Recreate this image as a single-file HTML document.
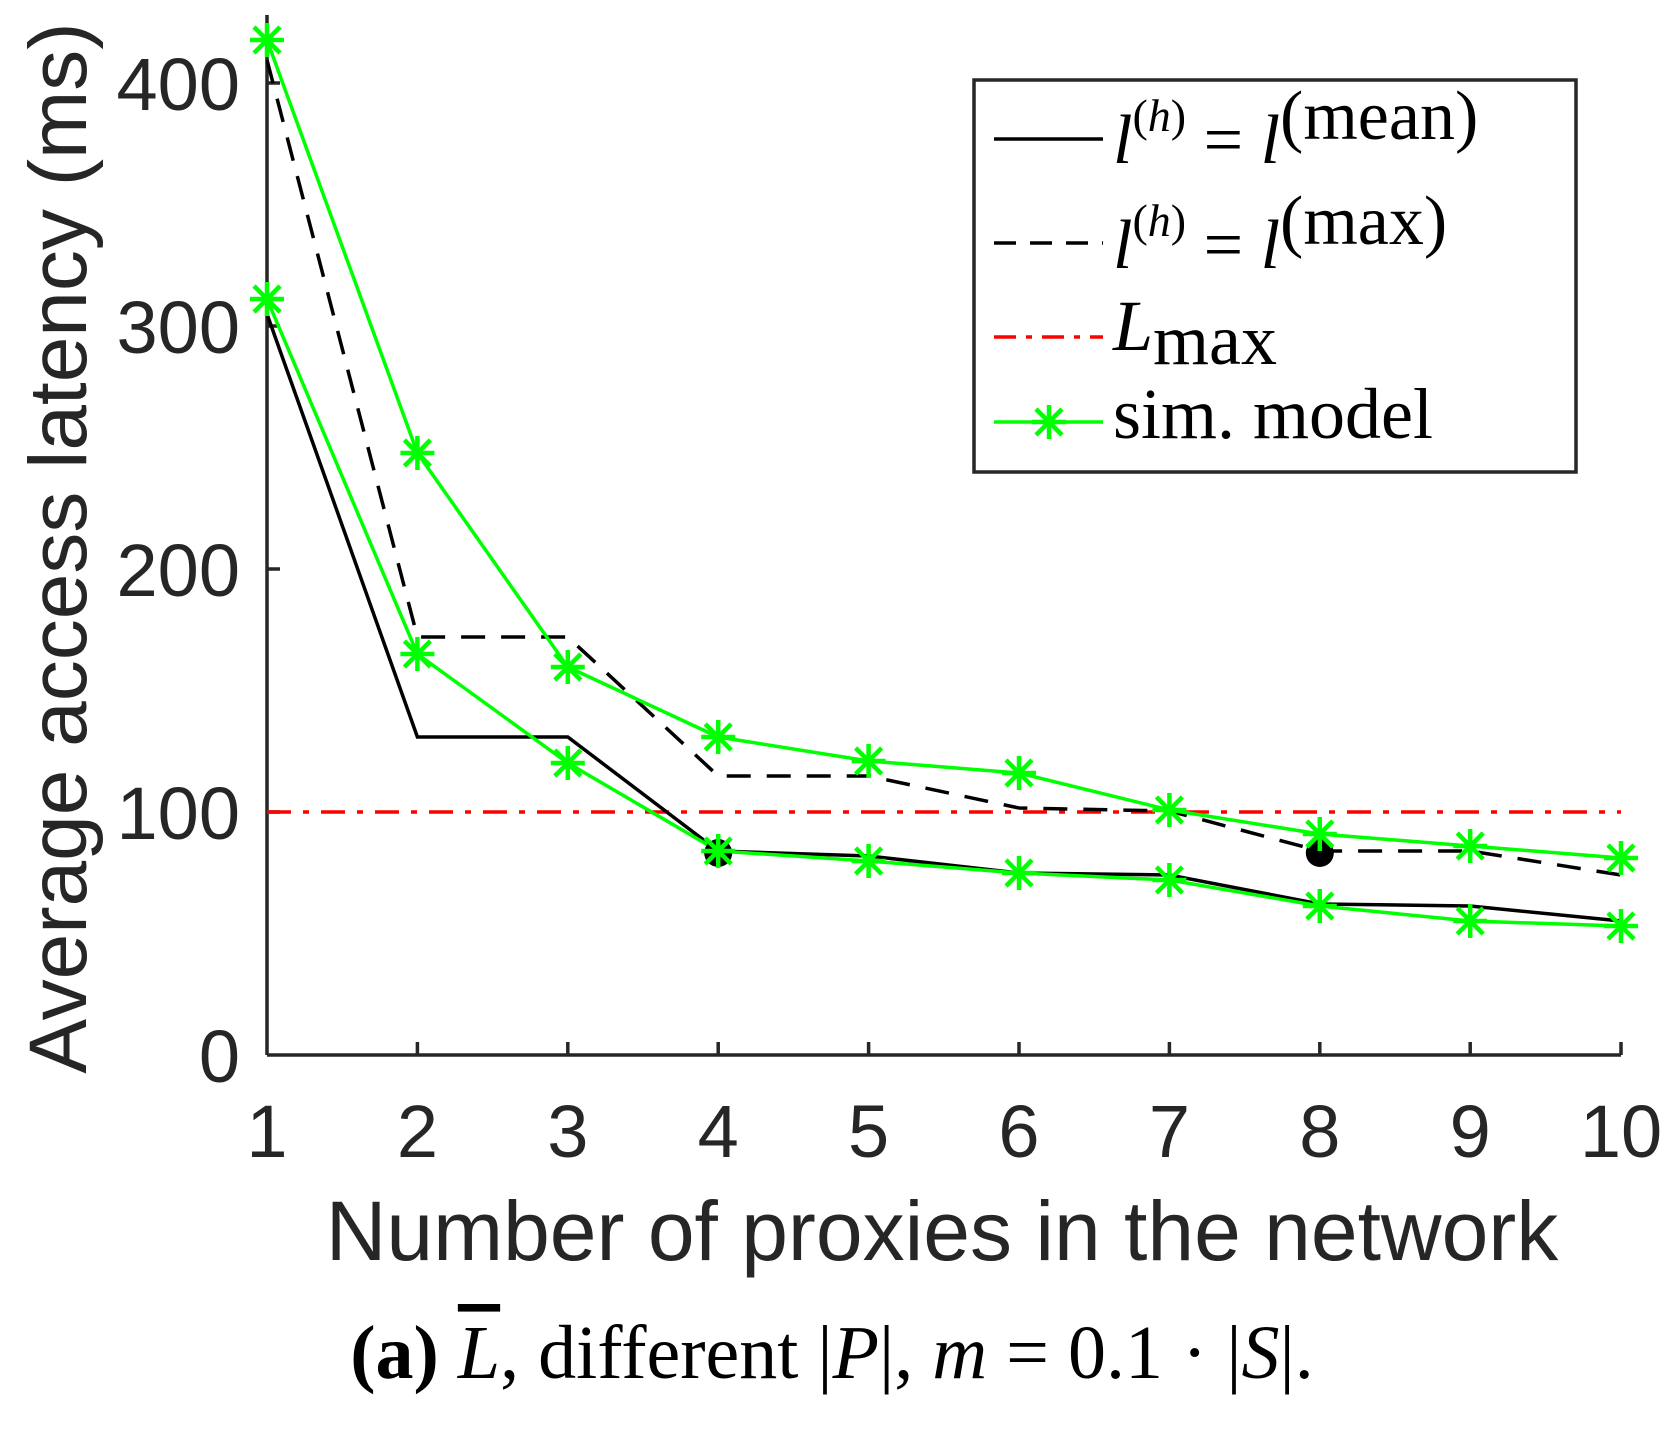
<!DOCTYPE html>
<html><head><meta charset="utf-8"><style>
html,body{margin:0;padding:0;background:#fff;}
svg{display:block;}
</style></head><body>
<svg width="1674" height="1445" viewBox="0 0 1674 1445" xmlns="http://www.w3.org/2000/svg">
<defs>
<g id="st" stroke="#00ff00" stroke-width="4.5" fill="none">
<line x1="0" y1="-17" x2="0" y2="17"/><line x1="-17" y1="0" x2="17" y2="0"/>
<line x1="-13" y1="-13" x2="13" y2="13"/><line x1="-13" y1="13" x2="13" y2="-13"/>
</g>
</defs>
<g stroke="#262626" stroke-width="3.5" fill="none">
<line x1="267" y1="15" x2="267" y2="1055"/>
<line x1="267" y1="1055" x2="1621" y2="1055"/>
<line x1="267" y1="83" x2="280" y2="83"/><line x1="267" y1="326" x2="280" y2="326"/>
<line x1="267" y1="569" x2="280" y2="569"/><line x1="267" y1="812" x2="280" y2="812"/>
<line x1="417.4" y1="1055" x2="417.4" y2="1042"/><line x1="567.8" y1="1055" x2="567.8" y2="1042"/>
<line x1="718.2" y1="1055" x2="718.2" y2="1042"/><line x1="868.6" y1="1055" x2="868.6" y2="1042"/>
<line x1="1019" y1="1055" x2="1019" y2="1042"/><line x1="1169.4" y1="1055" x2="1169.4" y2="1042"/>
<line x1="1319.8" y1="1055" x2="1319.8" y2="1042"/><line x1="1470.2" y1="1055" x2="1470.2" y2="1042"/>
<line x1="1621" y1="1055" x2="1621" y2="1042"/>
</g>
<g font-family="Liberation Sans, sans-serif" font-size="74" fill="#262626">
<g text-anchor="end">
<text x="240" y="1082">0</text><text x="240" y="839">100</text><text x="240" y="596">200</text>
<text x="240" y="353">300</text><text x="240" y="110">400</text>
</g>
<g text-anchor="middle">
<text x="267" y="1157">1</text><text x="417.4" y="1157">2</text><text x="567.8" y="1157">3</text>
<text x="718.2" y="1157">4</text><text x="868.6" y="1157">5</text><text x="1019" y="1157">6</text>
<text x="1169.4" y="1157">7</text><text x="1319.8" y="1157">8</text><text x="1470.2" y="1157">9</text>
<text x="1621" y="1157">10</text>
<text x="942" y="1260" font-size="84">Number of proxies in the network</text>
<text transform="translate(86,548) rotate(-90)" font-size="82">Average access latency (ms)</text>
</g>
</g>
<line x1="267" y1="812" x2="1621" y2="812" stroke="#ff0000" stroke-width="3.5" stroke-dasharray="24,12,6,12"/>
<polyline fill="none" stroke="#000" stroke-width="3.5" points="267,314 417.4,737 567.8,737 718.2,851 868.6,856 1019,873 1169.4,875 1319.8,904 1470.2,906 1621,921"/>
<polyline fill="none" stroke="#000" stroke-width="3.5" stroke-dasharray="24,16" points="267,60 417.4,637 567.8,637 718.2,776 868.6,776 1019,808 1169.4,811 1319.8,851 1470.2,851 1621,875"/>
<polyline fill="none" stroke="#00ff00" stroke-width="3.5" points="267,40 417.4,453 567.8,667 718.2,737 868.6,761 1019,773 1169.4,810 1319.8,834 1470.2,846 1621,858"/>
<polyline fill="none" stroke="#00ff00" stroke-width="3.5" points="267,299 417.4,654 567.8,763 718.2,851 868.6,861 1019,873 1169.4,880 1319.8,906 1470.2,921 1621,926"/>
<circle cx="718.2" cy="853" r="14" fill="#000"/>
<circle cx="1319.8" cy="853" r="14" fill="#000"/>
<g>
<use href="#st" x="267" y="40"/><use href="#st" x="417.4" y="453"/><use href="#st" x="567.8" y="667"/>
<use href="#st" x="718.2" y="737"/><use href="#st" x="868.6" y="761"/><use href="#st" x="1019" y="773"/>
<use href="#st" x="1169.4" y="810"/><use href="#st" x="1319.8" y="834"/><use href="#st" x="1470.2" y="846"/>
<use href="#st" x="1621" y="858"/>
<use href="#st" x="267" y="299"/><use href="#st" x="417.4" y="654"/><use href="#st" x="567.8" y="763"/>
<use href="#st" x="718.2" y="851"/><use href="#st" x="868.6" y="861"/><use href="#st" x="1019" y="873"/>
<use href="#st" x="1169.4" y="880"/><use href="#st" x="1319.8" y="906"/><use href="#st" x="1470.2" y="921"/>
<use href="#st" x="1621" y="926"/>
</g>
<rect x="974" y="80" width="602" height="392" fill="#fff" stroke="#262626" stroke-width="3.5" transform="translate(0,0)" style="display:none"/>
<rect x="974" y="80" width="602" height="392" fill="none" stroke="none"/>
<rect x="974" y="80" width="602" height="392" fill="#fff" stroke="#262626" stroke-width="3.5" style="display:none"/>
<rect x="974" y="80" width="602" height="392" fill="none"/>
<rect x="974" y="80" width="602" height="392" fill="#fff" stroke="#262626" stroke-width="3.5" display="none"/>
<rect x="974" y="80" width="602" height="392" fill="#fff" stroke="#262626" stroke-width="3.5" />
<line x1="994" y1="139" x2="1103" y2="139" stroke="#000" stroke-width="3.5"/>
<line x1="994" y1="243" x2="1103" y2="243" stroke="#000" stroke-width="3.5" stroke-dasharray="22,14"/>
<line x1="994" y1="337" x2="1103" y2="337" stroke="#ff0000" stroke-width="3.5" stroke-dasharray="22,10,6,10"/>
<line x1="994" y1="422" x2="1103" y2="422" stroke="#00ff00" stroke-width="3.5"/>
<use href="#st" x="1049" y="422"/>
<g font-family="Liberation Serif, serif" fill="#000">
<text x="1113" y="163" font-size="70"><tspan font-style="italic">l</tspan><tspan font-size="46" dy="-32">(<tspan font-style="italic">h</tspan>)</tspan><tspan dy="32"> = </tspan><tspan font-style="italic">l</tspan><tspan dy="-24">(mean)</tspan></text>
<text x="1113" y="268" font-size="70"><tspan font-style="italic">l</tspan><tspan font-size="46" dy="-32">(<tspan font-style="italic">h</tspan>)</tspan><tspan dy="32"> = </tspan><tspan font-style="italic">l</tspan><tspan dy="-24">(max)</tspan></text>
<text x="1113" y="350" font-size="72"><tspan font-style="italic">L</tspan><tspan dy="14">max</tspan></text>
<text x="1113" y="438" font-size="72">sim.  model</text>
</g>
<text x="832" y="1378" text-anchor="middle" font-family="Liberation Serif, serif" font-size="76" fill="#000"><tspan font-weight="bold">(a)</tspan> <tspan font-style="italic" text-decoration="overline">L</tspan>, different |<tspan font-style="italic">P</tspan>|, <tspan font-style="italic">m</tspan> = 0.1 · |<tspan font-style="italic">S</tspan>|.</text>
</svg>
</body></html>
